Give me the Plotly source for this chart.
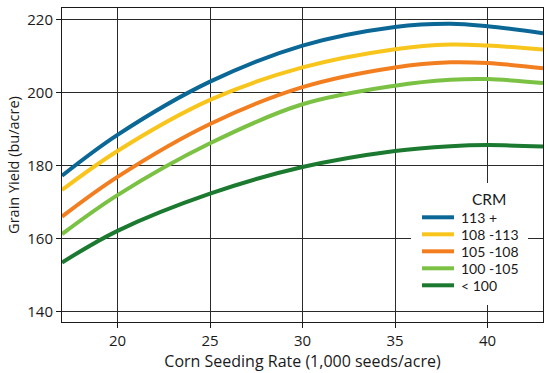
import plotly.graph_objects as go

# ---- data ----
seeding_rate = [17, 20, 25, 30, 35, 38, 40, 43]
crm_labels = ["113 +", "108 -113", "105 -108", "100 -105", "< 100"]
yield_113_plus = [177.2, 188.4, 203.0, 212.9, 218.0, 218.9, 218.2, 216.3]
yield_108_113 = [173.3, 184.0, 198.0, 206.9, 211.9, 213.2, 212.9, 211.8]
yield_105_108 = [166.0, 176.9, 191.4, 201.5, 206.9, 208.3, 208.1, 206.7]
yield_100_105 = [161.2, 171.9, 186.1, 196.8, 201.9, 203.5, 203.7, 202.6]
yield_below_100 = [153.4, 162.1, 172.3, 179.6, 184.0, 185.3, 185.6, 185.2]
x_ticks = [20, 25, 30, 35, 40]
y_ticks = [140, 160, 180, 200, 220]

series = [yield_113_plus, yield_108_113, yield_105_108, yield_100_105, yield_below_100]
colors = ["#0b6795", "#f8c51c", "#f27e20", "#7bc143", "#1b7a30"]

W, H = 548, 373
ML, MR, MT, MB = 62, 5, 8, 51
PW, PH = W - ML - MR, H - MT - MB
FONT = "Open Sans"
LEG_FONT = "Lato"
TXT = "#1a1a1a"

def px_x(px):
    return (px - ML) / PW

def px_y(py):
    return 1 - (py - MT) / PH

fig = go.Figure()
for name, ys, c in zip(crm_labels, series, colors):
    fig.add_trace(go.Scatter(
        x=seeding_rate, y=ys, name=name, mode="lines",
        line=dict(color=c, width=4, shape="spline", smoothing=1.0),
        showlegend=False, hoverinfo="skip",
    ))

axis_common = dict(
    showline=True, mirror=True, linecolor=TXT, linewidth=1,
    showgrid=True, gridcolor="#2a2a2a", gridwidth=1,
    ticks="outside", ticklen=5, tickcolor=TXT,
    zeroline=False, automargin=False,
    tickfont=dict(family=FONT, size=15, color=TXT),
)

fig.update_xaxes(
    range=[17, 43], tickvals=x_ticks, ticktext=[str(v) for v in x_ticks],
    title=dict(text="Corn Seeding Rate (1,000 seeds/acre)", standoff=4,
               font=dict(family=FONT, size=16, color=TXT)),
    **axis_common,
)
fig.update_yaxes(
    range=[137.1, 223.2], tickvals=y_ticks, ticktext=[str(v) for v in y_ticks],
    title=dict(text="Grain Yield (bu/acre)", standoff=4,
               font=dict(family=FONT, size=14.5, color=TXT)),
    **axis_common,
)

# ---- legend drawn as a white box with line keys and labels ----
shapes = [dict(type="rect", xref="paper", yref="paper",
               x0=px_x(411), x1=px_x(528), y0=px_y(305), y1=px_y(183),
               fillcolor="white", line=dict(width=0), layer="above")]
annotations = [dict(text="CRM", xref="paper", yref="paper",
                    x=px_x(489), y=px_y(199), xanchor="center", yanchor="middle",
                    showarrow=False,
                    font=dict(family=LEG_FONT, size=15.5, color=TXT))]
y0_item, step = 217.3, 17.0
for i, (name, c) in enumerate(zip(crm_labels, colors)):
    yy = px_y(y0_item + i * step)
    shapes.append(dict(type="line", xref="paper", yref="paper",
                       x0=px_x(422), x1=px_x(454), y0=yy, y1=yy,
                       line=dict(color=c, width=4), layer="above"))
    annotations.append(dict(text=name, xref="paper", yref="paper",
                            x=px_x(459), y=yy, xanchor="left", yanchor="middle",
                            showarrow=False,
                            font=dict(family=LEG_FONT, size=14, color=TXT)))

fig.update_layout(
    width=W, height=H,
    margin=dict(l=ML, r=MR, t=MT, b=MB, autoexpand=False),
    paper_bgcolor="white", plot_bgcolor="white",
    shapes=shapes, annotations=annotations,
    showlegend=False,
)

fig.write_html(
    "out.html",
    config={"displayModeBar": False, "staticPlot": True},
    post_script="document.body.style.margin='0';document.body.style.padding='0';",
)
